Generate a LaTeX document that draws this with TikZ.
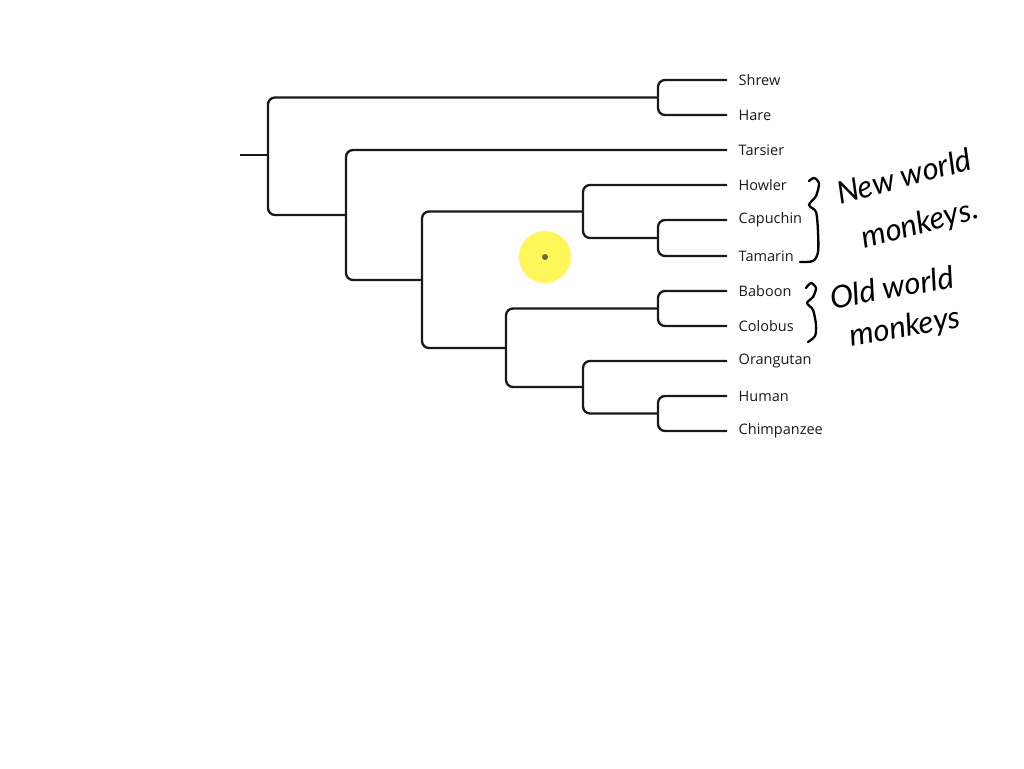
\documentclass[tikz,border=0pt]{standalone}
\usepackage{fontspec}
\setmainfont{Open Sans}
\newfontfamily\handfont{Lato}
\tikzset{
  branch/.style={line width=2.3pt, draw=black!90, rounded corners=7pt},
  taxon/.style={anchor=west, inner xsep=11.5pt, inner ysep=0pt, text=black!90,
    font=\fontsize{14.5}{16}\selectfont},
  scrawl/.style={inner sep=0pt, font=\handfont\itshape\fontsize{31}{33}\selectfont},
  curly/.style={line width=2.3pt, line cap=round, line join=round}
}
\begin{document}
\begin{tikzpicture}[x=1pt, y=-1pt]
  \useasboundingbox (0,0) rectangle (1024,768);

  % Листья (концы ветвей на x = 727)
  \node[taxon] (shrew) at (727,80) {Shrew};
  \node[taxon] (hare) at (727,115) {Hare};
  \node[taxon] (tarsier) at (727,150) {Tarsier};
  \node[taxon] (howler) at (727,185) {Howler};
  \node[taxon] (capuchin) at (727,220) {Capuchin};
  \node[taxon] (tamarin) at (727,256) {Tamarin};
  \node[taxon] (baboon) at (727,291) {Baboon};
  \node[taxon] (colobus) at (727,326) {Colobus};
  \node[taxon] (orangutan) at (727,361) {Orangutan};
  \node[taxon] (human) at (727,396) {Human};
  \node[taxon] (chimp) at (727,431) {Chimpanzee};

  % Внутренние узлы
  \coordinate (sh) at (658,97.5);
  \coordinate (ct) at (658,238);
  \coordinate (bc) at (658,308.5);
  \coordinate (hc) at (658,413.5);
  \coordinate (nw) at (583,211.5);
  \coordinate (ape) at (583,387);
  \coordinate (ow) at (506,348);
  \coordinate (anth) at (422,280);
  \coordinate (prim) at (346,215);
  \coordinate (root) at (268,155);
  \coordinate (stub) at (240,155);

  % Ветви
  \draw[branch] (stub) -- (root);
  \draw[branch] (root) |- (sh); \draw[branch] (root) |- (prim);
  \draw[branch] (sh) |- (shrew.west); \draw[branch] (sh) |- (hare.west);
  \draw[branch] (prim) |- (tarsier.west); \draw[branch] (prim) |- (anth);
  \draw[branch] (anth) |- (nw); \draw[branch] (anth) |- (ow);
  \draw[branch] (nw) |- (howler.west); \draw[branch] (nw) |- (ct);
  \draw[branch] (ct) |- (capuchin.west); \draw[branch] (ct) |- (tamarin.west);
  \draw[branch] (ow) |- (bc); \draw[branch] (ow) |- (ape);
  \draw[branch] (bc) |- (baboon.west); \draw[branch] (bc) |- (colobus.west);
  \draw[branch] (ape) |- (orangutan.west); \draw[branch] (ape) |- (hc);
  \draw[branch] (hc) |- (human.west); \draw[branch] (hc) |- (chimp.west);

  % Курсор
  \fill[yellow!65] (545,257) circle (26);
  \fill[black!45!yellow!60!black] (545,257) circle (3);

  % Рукописные пометки
  \draw[curly] plot[smooth] coordinates {(809,181) (814,178) (819,183) (816,196)
    (809,205) (816,212) (818,232) (818,252) (813,261) (800,262)};
  \draw[curly] plot[smooth] coordinates {(806,288) (811,283) (816,288) (813,297)
    (807,303) (813,310) (816,325) (815,336) (808,342)};
  \node[scrawl, rotate=15] (nwtop) at (904,176) {New world};
  \node[scrawl, rotate=15] (nwbot) at (920,225) {monkeys.};
  \node[scrawl, rotate=10] (owtop) at (892,287) {Old world};
  \node[scrawl, rotate=10] (owbot) at (905,328) {monkeys};
\end{tikzpicture}
\end{document}
